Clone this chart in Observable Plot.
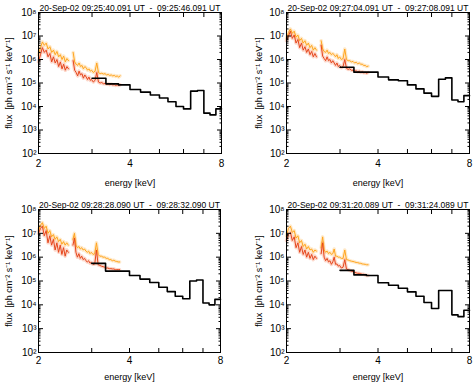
<!DOCTYPE html>
<html><head><meta charset="utf-8">
<script src="https://cdn.jsdelivr.net/npm/d3@7"></script>
<script src="https://cdn.jsdelivr.net/npm/@observablehq/plot@0.6"></script>
<style>
body{margin:0;background:#fff;}
#wrap{position:relative;width:474px;height:383px;overflow:hidden;background:#fff;}
.panel{position:absolute;}
</style></head><body><div id="wrap"></div>
<script>
// ---- data ----
const titles = [
  "20-Sep-02 09:25:40.091 UT  -  09:25:46.091 UT",
  "20-Sep-02 09:27:04.091 UT  -  09:27:08.091 UT",
  "20-Sep-02 09:28:28.090 UT  -  09:28:32.090 UT",
  "20-Sep-02 09:31:20.089 UT  -  09:31:24.089 UT"
];
// energies of the high-resolution spectra (keV); the null entry marks the gap
const lineEnergy = [2.00,2.03,2.06,2.09,2.12,2.15,2.18,2.21,2.24,2.27,2.30,2.33,2.36,2.39,2.42,2.45,2.48,2.51,2.555,
  2.60,2.63,2.66,2.69,2.72,2.75,2.78,2.81,2.84,2.87,2.90,2.93,2.96,2.99,
  3.03,3.07,3.11,3.15,3.19,3.23,3.27,3.31,3.35,3.39,3.43,3.47,3.51,3.55,3.59,3.63,3.67,3.71];
const orange1 = [1.6e6,3.2e6,5.6e6,4.0e6,5.0e6,2.8e6,3.5e6,2.0e6,2.5e6,1.6e6,2.2e6,1.3e6,1.6e6,1.0e6,1.4e6,7.9e5,1.1e6,8.9e5,null,
  2.0e6,7.9e5,6.3e5,5.6e5,7.1e5,5.0e5,5.6e5,4.0e5,5.0e5,4.5e5,3.5e5,4.0e5,3.2e5,3.5e5,
  2.8e5,3.2e5,7.1e5,2.8e5,2.5e5,2.6e5,2.4e5,2.5e5,2.2e5,2.3e5,2.1e5,2.2e5,2.0e5,2.1e5,1.9e5,2.0e5,1.8e5,2.0e5];
const red1 = [7.9e5,1.6e6,3.2e6,2.0e6,2.5e6,1.3e6,1.8e6,7.9e5,1.3e6,7.1e5,1.0e6,5.0e5,7.9e5,4.0e5,6.3e5,3.5e5,5.0e5,4.0e5,null,
  8.9e5,3.5e5,2.8e5,2.0e5,3.2e5,2.2e5,2.5e5,1.6e5,2.2e5,1.8e5,1.4e5,1.8e5,1.3e5,1.4e5,
  1.1e5,1.3e5,2.8e5,1.1e5,1.0e5,1.05e5,9.3e4,9.5e4,8.9e4,9.1e4,8.5e4,8.9e4,8.3e4,8.5e4,7.9e4,8.3e4,7.9e4,8.3e4];
const orange2 = [7.9e6,1.4e7,2.0e7,1.3e7,1.6e7,8.9e6,1.1e7,6.3e6,7.9e6,5.0e6,6.3e6,4.0e6,5.0e6,3.2e6,4.0e6,2.5e6,3.2e6,2.5e6,null,
  6.3e6,2.8e6,2.2e6,2.0e6,2.5e6,1.8e6,2.0e6,1.6e6,1.8e6,1.6e6,1.3e6,1.6e6,1.1e6,1.3e6,
  1.0e6,1.1e6,2.8e6,1.0e6,8.9e5,8.9e5,7.9e5,8.3e5,7.1e5,7.6e5,6.6e5,7.1e5,6.3e5,6.3e5,5.6e5,5.6e5,5.0e5,5.2e5];
const red2 = [6.3e6,1.0e7,1.6e7,7.9e6,1.1e7,5.0e6,7.1e6,3.2e6,5.0e6,2.5e6,3.5e6,2.0e6,2.8e6,1.6e6,2.2e6,1.3e6,1.8e6,1.3e6,null,
  4.0e6,1.4e6,1.1e6,8.9e5,1.3e6,8.9e5,1.0e6,7.1e5,8.9e5,7.1e5,5.6e5,7.1e5,5.0e5,5.6e5,
  4.5e5,5.0e5,1.0e6,4.2e5,3.8e5,4.0e5,3.5e5,3.5e5,3.2e5,3.3e5,3.0e5,3.2e5,2.8e5,3.0e5,2.7e5,2.8e5,2.6e5,2.8e5];
const orange3 = [1.3e7,2.2e7,2.8e7,1.6e7,2.0e7,1.0e7,1.3e7,7.1e6,8.9e6,5.6e6,7.1e6,4.5e6,5.6e6,3.5e6,4.5e6,3.2e6,4.0e6,3.2e6,null,
  5.6e6,1.0e7,3.2e6,2.5e6,2.8e6,2.2e6,2.5e6,2.0e6,2.2e6,1.8e6,1.6e6,1.8e6,1.4e6,1.6e6,
  1.3e6,1.4e6,4.0e6,1.3e6,1.1e6,1.1e6,1.0e6,1.0e6,8.9e5,8.9e5,7.9e5,7.9e5,7.1e5,7.4e5,6.8e5,6.6e5,6.3e5,6.3e5];
const red3 = [1.0e7,1.6e7,2.0e7,7.9e6,1.3e7,4.0e6,7.9e6,3.2e6,5.6e6,2.0e6,4.0e6,1.6e6,3.2e6,1.3e6,2.5e6,1.1e6,2.0e6,1.6e6,null,
  3.2e6,6.3e6,1.6e6,1.0e6,1.4e6,8.9e5,1.1e6,7.9e5,8.9e5,7.1e5,6.3e5,7.1e5,5.6e5,6.0e5,
  5.0e5,5.2e5,2.0e6,4.8e5,4.5e5,4.2e5,4.0e5,3.8e5,3.5e5,3.5e5,3.3e5,3.3e5,3.2e5,3.2e5,3.0e5,3.0e5,3.0e5,3.0e5];
const orange4 = [7.9e6,1.6e7,2.0e7,1.1e7,1.3e7,6.3e6,7.9e6,4.0e6,5.0e6,2.8e6,3.5e6,2.2e6,2.8e6,2.0e6,2.2e6,1.6e6,2.0e6,1.8e6,null,
  2.5e6,7.1e6,2.0e6,1.6e6,1.8e6,1.4e6,1.6e6,1.3e6,1.4e6,2.2e6,1.1e6,1.1e6,1.0e6,1.0e6,
  8.9e5,8.9e5,2.0e6,7.9e5,7.6e5,7.1e5,6.8e5,6.6e5,6.3e5,6.0e5,5.9e5,5.6e5,5.5e5,5.2e5,5.1e5,5.0e5,4.8e5,4.8e5];
const red4 = [5.0e6,8.9e6,1.1e7,5.0e6,7.1e6,2.5e6,4.0e6,1.6e6,2.8e6,1.3e6,2.0e6,1.0e6,1.6e6,8.9e5,1.3e6,7.9e5,1.1e6,8.9e5,null,
  1.4e6,4.0e6,1.0e6,7.1e5,8.9e5,6.3e5,7.1e5,5.0e5,6.3e5,1.0e6,5.0e5,5.2e5,4.2e5,4.5e5,
  3.5e5,3.8e5,7.9e5,3.2e5,3.0e5,2.8e5,2.6e5,2.5e5,2.3e5,2.2e5,2.1e5,2.1e5,2.0e5,1.9e5,1.9e5,1.8e5,1.7e5,1.7e5];
// low-resolution binned spectrum (bin edges in keV, flux per bin)
const binEdges = [3.0,3.333,3.667,4.0,4.333,4.667,5.0,5.333,5.667,6.0,6.333,6.667,7.0,7.333,7.667,8.0];
const black1 = [1.6e5,9.2e4,8.3e4,5.3e4,4.1e4,3.1e4,2.3e4,1.6e4,1.0e4,7.9e3,4.5e4,4.8e4,5.2e3,4.4e3,7.9e3];
const black2 = [4.7e5,2.9e5,2.9e5,1.8e5,1.36e5,1.24e5,8.3e4,5.6e4,3.7e4,2.7e4,1.45e5,1.66e5,1.9e4,1.6e4,2.9e4];
const black3 = [5.5e5,2.6e5,2.6e5,1.7e5,1.2e5,8.6e4,5.5e4,3.6e4,2.3e4,1.8e4,1.0e5,1.1e5,1.2e4,1.0e4,1.7e4];
const black4 = [2.8e5,1.8e5,1.7e5,8.5e4,6.6e4,5.0e4,3.5e4,2.3e4,1.26e4,7.0e3,4.0e4,4.0e4,3.8e3,3.2e3,5.9e3];
// ticks
const yTickValues = [1e2,1e3,1e4,1e5,1e6,1e7,1e8];
const yTickLabels = ["10²","10³","10⁴","10⁵","10⁶","10⁷","10⁸"];
const xTickValues = [2,4,8];
const xTickLabels = ["2","4","8"];
const xMinorValues = [3,5,6,7];
const yMinorValues = d3.range(2,8).flatMap(k => d3.range(2,10).map(m => m * Math.pow(10,k)));
const xLabel = "energy [keV]";
const yLabel = "flux  [ph cm⁻² s⁻¹ keV⁻¹]";

// ---- layout ----
const panels = [
  {left:0,   top:0,   w:237, h:190, mL:38, mR:16, mT:12, mB:37, xOff:32, yOff:33, xTickDy:13, title:titles[0], orange:orange1, red:red1, black:black1},
  {left:237, top:0,   w:237, h:190, mL:49, mR:5,  mT:12, mB:37, xOff:32, yOff:31, xTickDy:13, title:titles[1], orange:orange2, red:red2, black:black2},
  {left:0,   top:190, w:237, h:193, mL:38, mR:17, mT:19, mB:31, xOff:27, yOff:33, xTickDy:11, title:titles[2], orange:orange3, red:red3, black:black3},
  {left:237, top:190, w:237, h:193, mL:49, mR:5,  mT:19, mB:31, xOff:27, yOff:31, xTickDy:11, title:titles[3], orange:orange4, red:red4, black:black4}
];

const font = "'Liberation Sans', Arial, Helvetica, sans-serif";
const wrap = document.getElementById("wrap");

for (const p of panels) {
  const lineData = vals => lineEnergy.map((e, i) => ({e, f: vals[i]}));
  const stepData = binEdges.map((e, i) => ({e, f: p.black[Math.min(i, p.black.length - 1)]}));
  const chart = Plot.plot({
    width: p.w, height: p.h,
    marginLeft: p.mL, marginRight: p.mR, marginTop: p.mT, marginBottom: p.mB,
    x: {type: "log", domain: [2, 8]},
    y: {type: "log", domain: [1e2, 1e8]},
    style: {fontFamily: font, fontSize: "10px", background: "transparent", overflow: "visible"},
    marks: [
      Plot.line(lineData(p.orange), {x: "e", y: "f", stroke: "#ffc978", strokeWidth: 3.5, strokeOpacity: 0.4}),
      Plot.line(lineData(p.red), {x: "e", y: "f", stroke: "#f58a64", strokeWidth: 3.5, strokeOpacity: 0.35}),
      Plot.line(lineData(p.orange), {x: "e", y: "f", stroke: "#ffa51e", strokeWidth: 1}),
      Plot.line(lineData(p.red), {x: "e", y: "f", stroke: "#e6461c", strokeWidth: 1}),
      Plot.line(stepData, {x: "e", y: "f", curve: "step-after", stroke: "#000", strokeWidth: 1.6}),
      Plot.frame({stroke: "#000", strokeWidth: 1}),
      Plot.axisY(yTickValues, {anchor: "left", tickSize: -5, tickPadding: 7, tickFormat: d => yTickLabels[yTickValues.indexOf(d)], fontSize: 10, label: yLabel, labelAnchor: "center", labelOffset: p.yOff, labelArrow: "none"}),
      Plot.axisY(yTickValues, {anchor: "right", tickSize: -5, tickFormat: () => "", label: null}),
      Plot.axisY(yMinorValues, {anchor: "left", tickSize: -2.5, tickFormat: () => "", label: null}),
      Plot.axisY(yMinorValues, {anchor: "right", tickSize: -2.5, tickFormat: () => "", label: null}),
      Plot.axisX(xTickValues, {anchor: "bottom", tickSize: -4, tickFormat: () => "", label: xLabel, labelAnchor: "center", labelOffset: p.xOff, labelArrow: "none"}),
      Plot.axisX(xTickValues, {anchor: "top", tickSize: -4, tickFormat: () => "", label: null}),
      Plot.axisX(xMinorValues, {anchor: "bottom", tickSize: -4, tickFormat: () => "", label: null}),
      Plot.axisX(xMinorValues, {anchor: "top", tickSize: -4, tickFormat: () => "", label: null}),
      Plot.text(xTickValues, {x: d => d, text: d => xTickLabels[xTickValues.indexOf(d)], frameAnchor: "bottom", dy: p.xTickDy, fontSize: 10, fill: "#000"}),
      Plot.text([p.title], {frameAnchor: "top", dy: -8, fontSize: 8.5, fill: "#000"})
    ]
  });
  chart.classList.add("panel");
  chart.style.left = p.left + "px";
  chart.style.top = p.top + "px";
  // axis-label font size
  chart.querySelectorAll("[aria-label$='axis label'] text, [aria-label$='axis label']").forEach(el => el.setAttribute("font-size", 9));
  wrap.appendChild(chart);
}
</script>
</body></html>
